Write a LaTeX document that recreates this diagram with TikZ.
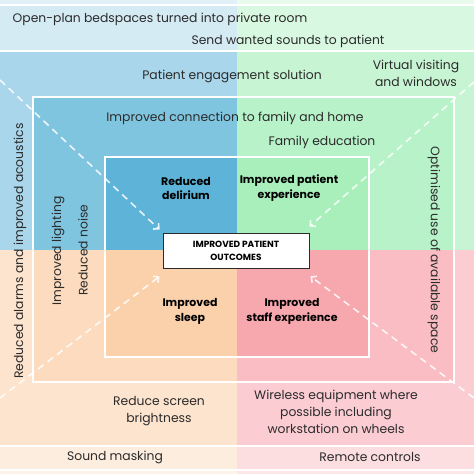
\documentclass[tikz,border=0pt]{standalone}
\usepackage{fontspec}
\setmainfont{Poppins}
\usepackage{xcolor}
\usetikzlibrary{arrows.meta,positioning}

% quadrant colours, 0 = outermost layer, 4 = innermost
\definecolor{blue0}{HTML}{E2F1F8}
\definecolor{blue1}{HTML}{D5EBF4}
\definecolor{blue2}{HTML}{A9D6EA}
\definecolor{blue3}{HTML}{80C5E0}
\definecolor{blue4}{HTML}{5DB4D8}
\definecolor{green0}{HTML}{E8FBEC}
\definecolor{green1}{HTML}{D9F8E1}
\definecolor{green2}{HTML}{C7F5D3}
\definecolor{green3}{HTML}{B7F2C8}
\definecolor{green4}{HTML}{A8EFBB}
\definecolor{peach0}{HTML}{FEF3E9}
\definecolor{peach1}{HTML}{FDEDDF}
\definecolor{peach2}{HTML}{FDE4CE}
\definecolor{peach3}{HTML}{FCDBBE}
\definecolor{peach4}{HTML}{FBD1AC}
\definecolor{pink0}{HTML}{FDE7E9}
\definecolor{pink1}{HTML}{FCDDE0}
\definecolor{pink2}{HTML}{FBCDD2}
\definecolor{pink3}{HTML}{FABDC3}
\definecolor{pink4}{HTML}{F7A7AE}
\definecolor{ink}{HTML}{2B2B2B}

\begin{document}
\begin{tikzpicture}[
  x=1bp, y=-1bp,
  lbl/.style   = {font=\fontsize{12.4}{17}\selectfont, text=ink,
                  align=center, inner sep=0pt},
  core/.style  = {font=\fontsize{11}{15}\selectfont\bfseries, text=black,
                  align=center, inner sep=0pt},
  gap/.style   = {draw=white, line width=2.5pt},
  flow/.style  = {-{Straight Barb[length=4pt,width=8pt]}, draw=white,
                  draw opacity=0.85, line width=1.6pt,
                  dash pattern=on 7pt off 5pt},
]
\useasboundingbox (0,0) rectangle (474,474);
% nested layers, split into four quadrants
\foreach \k/\xa/\ya/\xb/\yb in {0/0/0/474/474, 1/0/5/474/470,
    2/0/51/474/446, 3/33/97/454/382, 4/105/157/369/357} {
  \fill[fill=blue\k]  (\xa,\ya) rectangle (237,250);
  \fill[fill=green\k] (237,\ya) rectangle (\xb,250);
  \fill[fill=peach\k] (\xa,250) rectangle (237,\yb);
  \fill[fill=pink\k]  (237,250) rectangle (\xb,\yb);
}
\foreach \yy in {5,51,446,470}
  \draw[gap] (0,\yy) -- (474,\yy);
\draw[gap] (33,97) rectangle (454,382);
\draw[gap] (105,157) rectangle (369,357);

% outer labels
\node[lbl] (openplan) at (160,19.5) {Open-plan bedspaces turned into private room};
\node[lbl] (sounds)   at (288,41)   {Send wanted sounds to patient};
\node[lbl] (engage)   at (232,76)   {Patient engagement solution};
\node[lbl] (virtual)  at (416,73.5) {Virtual visiting\\and windows};
\node[lbl] (family)   at (235,118.5){Improved connection to family and home};
\node[lbl] (educ)     at (322,142.5){Family education};
\node[lbl, rotate=90]  (alarms)   at (20,251)  {Reduced alarms and improved acoustics};
\node[lbl, rotate=90]  (lighting) at (58,251)  {Improved lighting};
\node[lbl, rotate=90]  (noise)    at (83,250)  {Reduced noise};
\node[lbl, rotate=-90] (space)    at (434,250) {Optimised use of available space};
\node[lbl] (screen)   at (159,411.5){Reduce screen\\brightness};
\node[lbl] (wireless) at (336,411.5){Wireless equipment where\\possible including\\workstation on wheels};
\node[lbl] (masking)  at (115,457)  {Sound masking};
\node[lbl] (remote)   at (370,457)  {Remote controls};

% inner outcomes
\node[core] (delirium) at (186,188.5) {Reduced\\delirium};
\node[core] (patexp)   at (289,188.5) {Improved patient\\experience};
\node[core] (sleep)    at (190,311)   {Improved\\sleep};
\node[core] (staffexp) at (292,311)   {Improved\\staff experience};

\node[draw=ink, fill=white, line width=0.8pt, minimum width=146bp,
      minimum height=35bp, align=center, inner sep=0pt,
      font=\fontsize{9}{13}\selectfont\bfseries] (outcomes) at (236,250.5)
    {IMPROVED PATIENT\\OUTCOMES};

\coordinate (tlsrc) at (0,80);
\coordinate (trsrc) at (474,82);
\coordinate (blsrc) at (0,398);
\coordinate (brsrc) at (474,398);
\draw[flow] (tlsrc) -- ([xshift=-3bp,yshift=3bp]outcomes.north west);
\draw[flow] (trsrc) -- ([yshift=6bp]outcomes.north east);
\draw[flow] (blsrc) -- ([xshift=-3bp,yshift=-8bp]outcomes.south west);
\draw[flow] (brsrc) -- ([xshift=1bp,yshift=-8bp]outcomes.south east);
\end{tikzpicture}
\end{document}
